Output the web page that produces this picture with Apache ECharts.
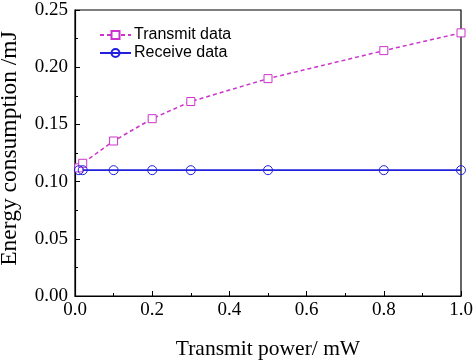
<!DOCTYPE html>
<html><head><meta charset="utf-8">
<script src="https://cdn.jsdelivr.net/npm/echarts@6/dist/echarts.min.js"></script>
<style>html,body{margin:0;padding:0;background:#fff}#c{width:474px;height:363px}</style>
</head><body><div id="c"></div>
<script>
const transmitX = [0.01, 0.02, 0.1, 0.2, 0.3, 0.5, 0.8, 1.0];
const transmitY = [0.112, 0.116, 0.1355, 0.155, 0.170, 0.190, 0.2145, 0.230];
const receiveX = [0.01, 0.02, 0.1, 0.2, 0.3, 0.5, 0.8, 1.0];
const receiveY = [0.11, 0.11, 0.11, 0.11, 0.11, 0.11, 0.11, 0.11];

const serif = 'Liberation Serif';
const chart = echarts.init(document.getElementById('c'));
chart.setOption({
  animation: false,
  backgroundColor: '#fff',
  grid: {left: 75, right: 13, top: 10, bottom: 67, containLabel: false, outerBoundsMode: 'none', show: true, borderColor: '#000', borderWidth: 1.2, backgroundColor: 'transparent'},
  legend: {
    left: 99, top: 27, padding: 0, orient: 'vertical', itemGap: 2, itemWidth: 31, itemHeight: 10,
    textStyle: {fontFamily: 'Liberation Sans', fontSize: 16, color: '#000', padding: [0, 0, 0, -2]},
    data: ['Transmit data', 'Receive data']
  },
  xAxis: {
    type: 'value', min: 0, max: 1, interval: 0.2,
    axisLine: {show: true, onZero: false, lineStyle: {color: '#000', width: 1.2}},
    axisTick: {inside: true, length: 5, lineStyle: {color: '#000'}},
    minorTick: {show: true, splitNumber: 2, length: 3, lineStyle: {color: '#000'}},
    splitLine: {show: false},
    axisLabel: {fontFamily: serif, fontSize: 19, color: '#000', margin: 5, formatter: v => v.toFixed(1)},
    name: 'Transmit power/ mW', nameLocation: 'middle', nameGap: 42,
    nameTextStyle: {fontFamily: serif, fontSize: 21.5, color: '#000'}
  },
  yAxis: {
    type: 'value', min: 0, max: 0.25, interval: 0.05,
    axisLine: {show: true, onZero: false, lineStyle: {color: '#000', width: 1.2}},
    axisTick: {inside: true, length: 5, lineStyle: {color: '#000'}},
    minorTick: {show: true, splitNumber: 2, length: 3, lineStyle: {color: '#000'}},
    splitLine: {show: false},
    axisLabel: {fontFamily: serif, fontSize: 19, color: '#000', margin: 7, formatter: v => v.toFixed(2)},
    name: 'Energy consumption /mJ', nameLocation: 'middle', nameGap: 53,
    nameTextStyle: {fontFamily: serif, fontSize: 23.5, color: '#000', padding: [0, 0, 0, 9]}
  },
  series: [
    {
      name: 'Transmit data', type: 'line', smooth: false,
      data: transmitX.map((x, i) => [x, transmitY[i]]),
      symbol: 'rect', symbolSize: 8,
      lineStyle: {color: '#cc33cc', width: 1.5, type: [4, 3]},
      itemStyle: {color: '#fff', borderColor: '#cc33cc', borderWidth: 1}
    },
    {
      name: 'Receive data', type: 'line',
      data: receiveX.map((x, i) => [x, receiveY[i]]),
      symbol: 'circle', symbolSize: 9,
      lineStyle: {color: '#2020dd', width: 1.8},
      itemStyle: {color: 'rgba(255,255,255,0)', borderColor: '#2020dd', borderWidth: 1}
    }
  ]
});
</script></body></html>
